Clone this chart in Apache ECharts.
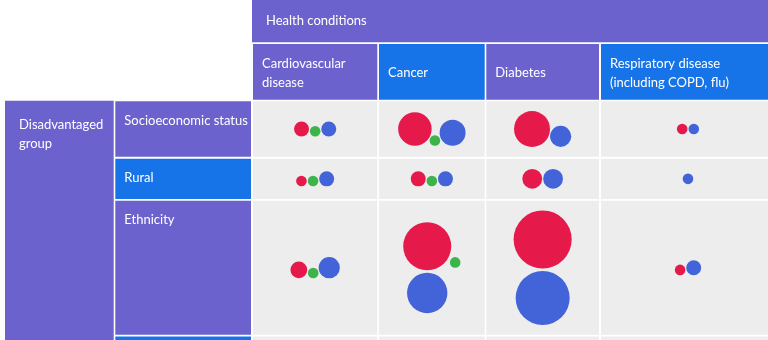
<!DOCTYPE html>
<html>
<head>
<meta charset="utf-8">
<script src="https://cdn.jsdelivr.net/npm/echarts@6/dist/echarts.min.js"></script>
<style>
  html, body { margin: 0; padding: 0; background: #ffffff; }
  #chart { width: 768px; height: 340px; }
</style>
</head>
<body>
<div id="chart"></div>
<script>
// ---------- data ----------
const columnGroupTitle = 'Health conditions';
const rowGroupTitle = 'Disadvantaged group';
const columnLabels = ['Cardiovascular disease', 'Cancer', 'Diabetes', 'Respiratory disease (including COPD, flu)'];
const rowLabels = ['Socioeconomic status', 'Rural', 'Ethnicity', ''];
// values per row (socioeconomic, rural, ethnicity) and column (cardio, cancer, diabetes, respiratory)
const redValues   = [[2, 10, 11.5, 1], [1, 2, 3.5, 0], [2.5, 20.5, 30, 1]];
const greenValues = [[1, 1, 0, 0],     [1, 1, 0, 0],   [1, 1, 0, 0]];
const blueValues  = [[2, 6, 4, 1],     [2, 2, 3.5, 1], [4, 14.5, 26, 2]];

// ---------- layout & style ----------
const W = 768, H = 340;
const PURPLE = '#6b62cd', BLUE = '#1774e8', GREY = '#ededed';
const SERIES_COLORS = ['#e6194b', '#3cb44b', '#4363d8'];
const R_UNIT = 5.3; // radius of a bubble of value 1
const FONT = '13px Lato';
const TEXT_SHIFT = 1;
const layout = {
  topRow: [-2, 42.3],
  headRow: [44, 99.7],
  groupCol: [5, 113.7],
  labelCol: [115.3, 251],
  dataStartX: 252,
  cols: [[253, 377.3], [379, 484.7], [486.3, 599], [601, 775]],
  rows: [[101.3, 156.7], [158.7, 199], [200.7, 334.7], [336.4, 420]]
};

const cells = [];
cells.push({ x0: layout.dataStartX, x1: 800, y0: layout.topRow[0], y1: layout.topRow[1], fill: PURPLE,
  text: columnGroupTitle, padX: 14, valign: 'middle' });
columnLabels.forEach((t, i) => {
  const c = layout.cols[i];
  cells.push({ x0: c[0], x1: c[1], y0: layout.headRow[0], y1: layout.headRow[1],
    fill: i % 2 === 0 ? PURPLE : BLUE, text: t, padX: 9, valign: 'middle' });
});
cells.push({ x0: layout.groupCol[0], x1: layout.groupCol[1], y0: 100.7, y1: 420, fill: PURPLE,
  text: rowGroupTitle, padX: 14, padY: 14, valign: 'top' });
rowLabels.forEach((t, j) => {
  const r = layout.rows[j];
  cells.push({ x0: layout.labelCol[0], x1: layout.labelCol[1], y0: r[0], y1: r[1],
    fill: j % 2 === 0 ? PURPLE : BLUE, text: t, padX: 9, padY: 9, valign: 'top' });
  layout.cols.forEach(c => {
    cells.push({ x0: c[0], x1: c[1], y0: r[0], y1: r[1], fill: GREY, text: '' });
  });
});

// packing of the bubbles inside one cell
function packCell(items, cell) {
  const GAP = 1, STACK_GAP = 2.5, PAD = 10;
  const cw = cell.x1 - cell.x0;
  let pos = [];
  // row layout, bottom aligned, each bubble tangent to its neighbours
  items.forEach((it, k) => {
    if (k === 0) { pos.push({ x: 0, y: -it.r }); return; }
    let x = -Infinity;
    for (let m = 0; m < k; m++) {
      const p = pos[m], pr = items[m].r;
      const d = pr + it.r + GAP, dy = pr - it.r;
      const dx = Math.sqrt(Math.max(d * d - dy * dy, 0));
      x = Math.max(x, p.x + dx);
    }
    pos.push({ x: x, y: -it.r });
  });
  const rowW = Math.max(...pos.map((p, k) => p.x + items[k].r)) - Math.min(...pos.map((p, k) => p.x - items[k].r));
  if (items.length > 1 && rowW > cw - 2 * PAD) {
    // stacked layout: first above last, middle ones beside the first
    pos = [];
    const first = items[0], last = items[items.length - 1];
    items.forEach((it, k) => {
      if (k === 0) pos.push({ x: 0, y: 0 });
      else if (k === items.length - 1) pos.push({ x: 0, y: first.r + last.r + STACK_GAP });
      else {
        const d = first.r + it.r + 3, a = Math.PI / 6;
        pos.push({ x: d * Math.cos(a), y: d * Math.sin(a) });
      }
    });
  }
  const minX = Math.min(...pos.map((p, k) => p.x - items[k].r));
  const maxX = Math.max(...pos.map((p, k) => p.x + items[k].r));
  const minY = Math.min(...pos.map((p, k) => p.y - items[k].r));
  const maxY = Math.max(...pos.map((p, k) => p.y + items[k].r));
  const cx = (cell.x0 + cell.x1) / 2, cy = (cell.y0 + cell.y1) / 2;
  const ox = cx - (minX + maxX) / 2, oy = cy - (minY + maxY) / 2;
  return pos.map((p, k) => ({ x: p.x + ox, y: p.y + oy, s: items[k].s, v: items[k].v }));
}

const allValues = [redValues, greenValues, blueValues];
const seriesData = [[], [], []];
for (let j = 0; j < redValues.length; j++) {
  for (let i = 0; i < columnLabels.length; i++) {
    const items = [];
    allValues.forEach((vals, s) => {
      const v = vals[j][i];
      if (v > 0) items.push({ s: s, v: v, r: R_UNIT * Math.sqrt(v) });
    });
    const cell = { x0: layout.cols[i][0], x1: layout.cols[i][1], y0: layout.rows[j][0], y1: layout.rows[j][1] };
    packCell(items, cell).forEach(p => seriesData[p.s].push([p.x, p.y, p.v]));
  }
}

const chart = echarts.init(document.getElementById('chart'), null, { renderer: 'canvas' });
const option = {
  animation: false,
  backgroundColor: '#ffffff',
  grid: { left: 0, top: 0, width: W, height: H, outerBoundsMode: 'none', containLabel: false },
  xAxis: { type: 'value', min: 0, max: W, show: false },
  yAxis: { type: 'value', min: 0, max: H, inverse: true, show: false },
  series: [
    {
      type: 'custom',
      name: 'table',
      clip: true,
      z: 1,
      silent: true,
      data: cells.map(c => [c.x0, c.y0, c.x1, c.y1]),
      renderItem: function (params, api) {
        const c = cells[params.dataIndex];
        const p0 = api.coord([c.x0, c.y0]);
        const p1 = api.coord([c.x1, c.y1]);
        const children = [{
          type: 'rect',
          shape: { x: p0[0], y: p0[1], width: p1[0] - p0[0], height: p1[1] - p0[1] },
          style: { fill: c.fill }
        }];
        if (c.text) {
          const w = p1[0] - p0[0] - c.padX;
          children.push({
            type: 'text',
            style: {
              text: c.text,
              x: p0[0] + c.padX,
              y: (c.valign === 'middle' ? (p0[1] + p1[1]) / 2 : p0[1] + c.padY) + TEXT_SHIFT,
              fill: '#ffffff',
              font: FONT,
              lineHeight: 19,
              width: w,
              overflow: 'break',
              align: 'left',
              verticalAlign: c.valign
            }
          });
        }
        return { type: 'group', children: children };
      }
    },
    ...['Red group', 'Green group', 'Blue group'].map((name, s) => ({
      type: 'scatter',
      name: name,
      z: 2,
      data: seriesData[s],
      symbol: 'circle',
      symbolSize: v => 2 * R_UNIT * Math.sqrt(v[2]),
      itemStyle: { color: SERIES_COLORS[s], opacity: 1 }
    }))
  ]
};
chart.setOption(option);
</script>
</body>
</html>
